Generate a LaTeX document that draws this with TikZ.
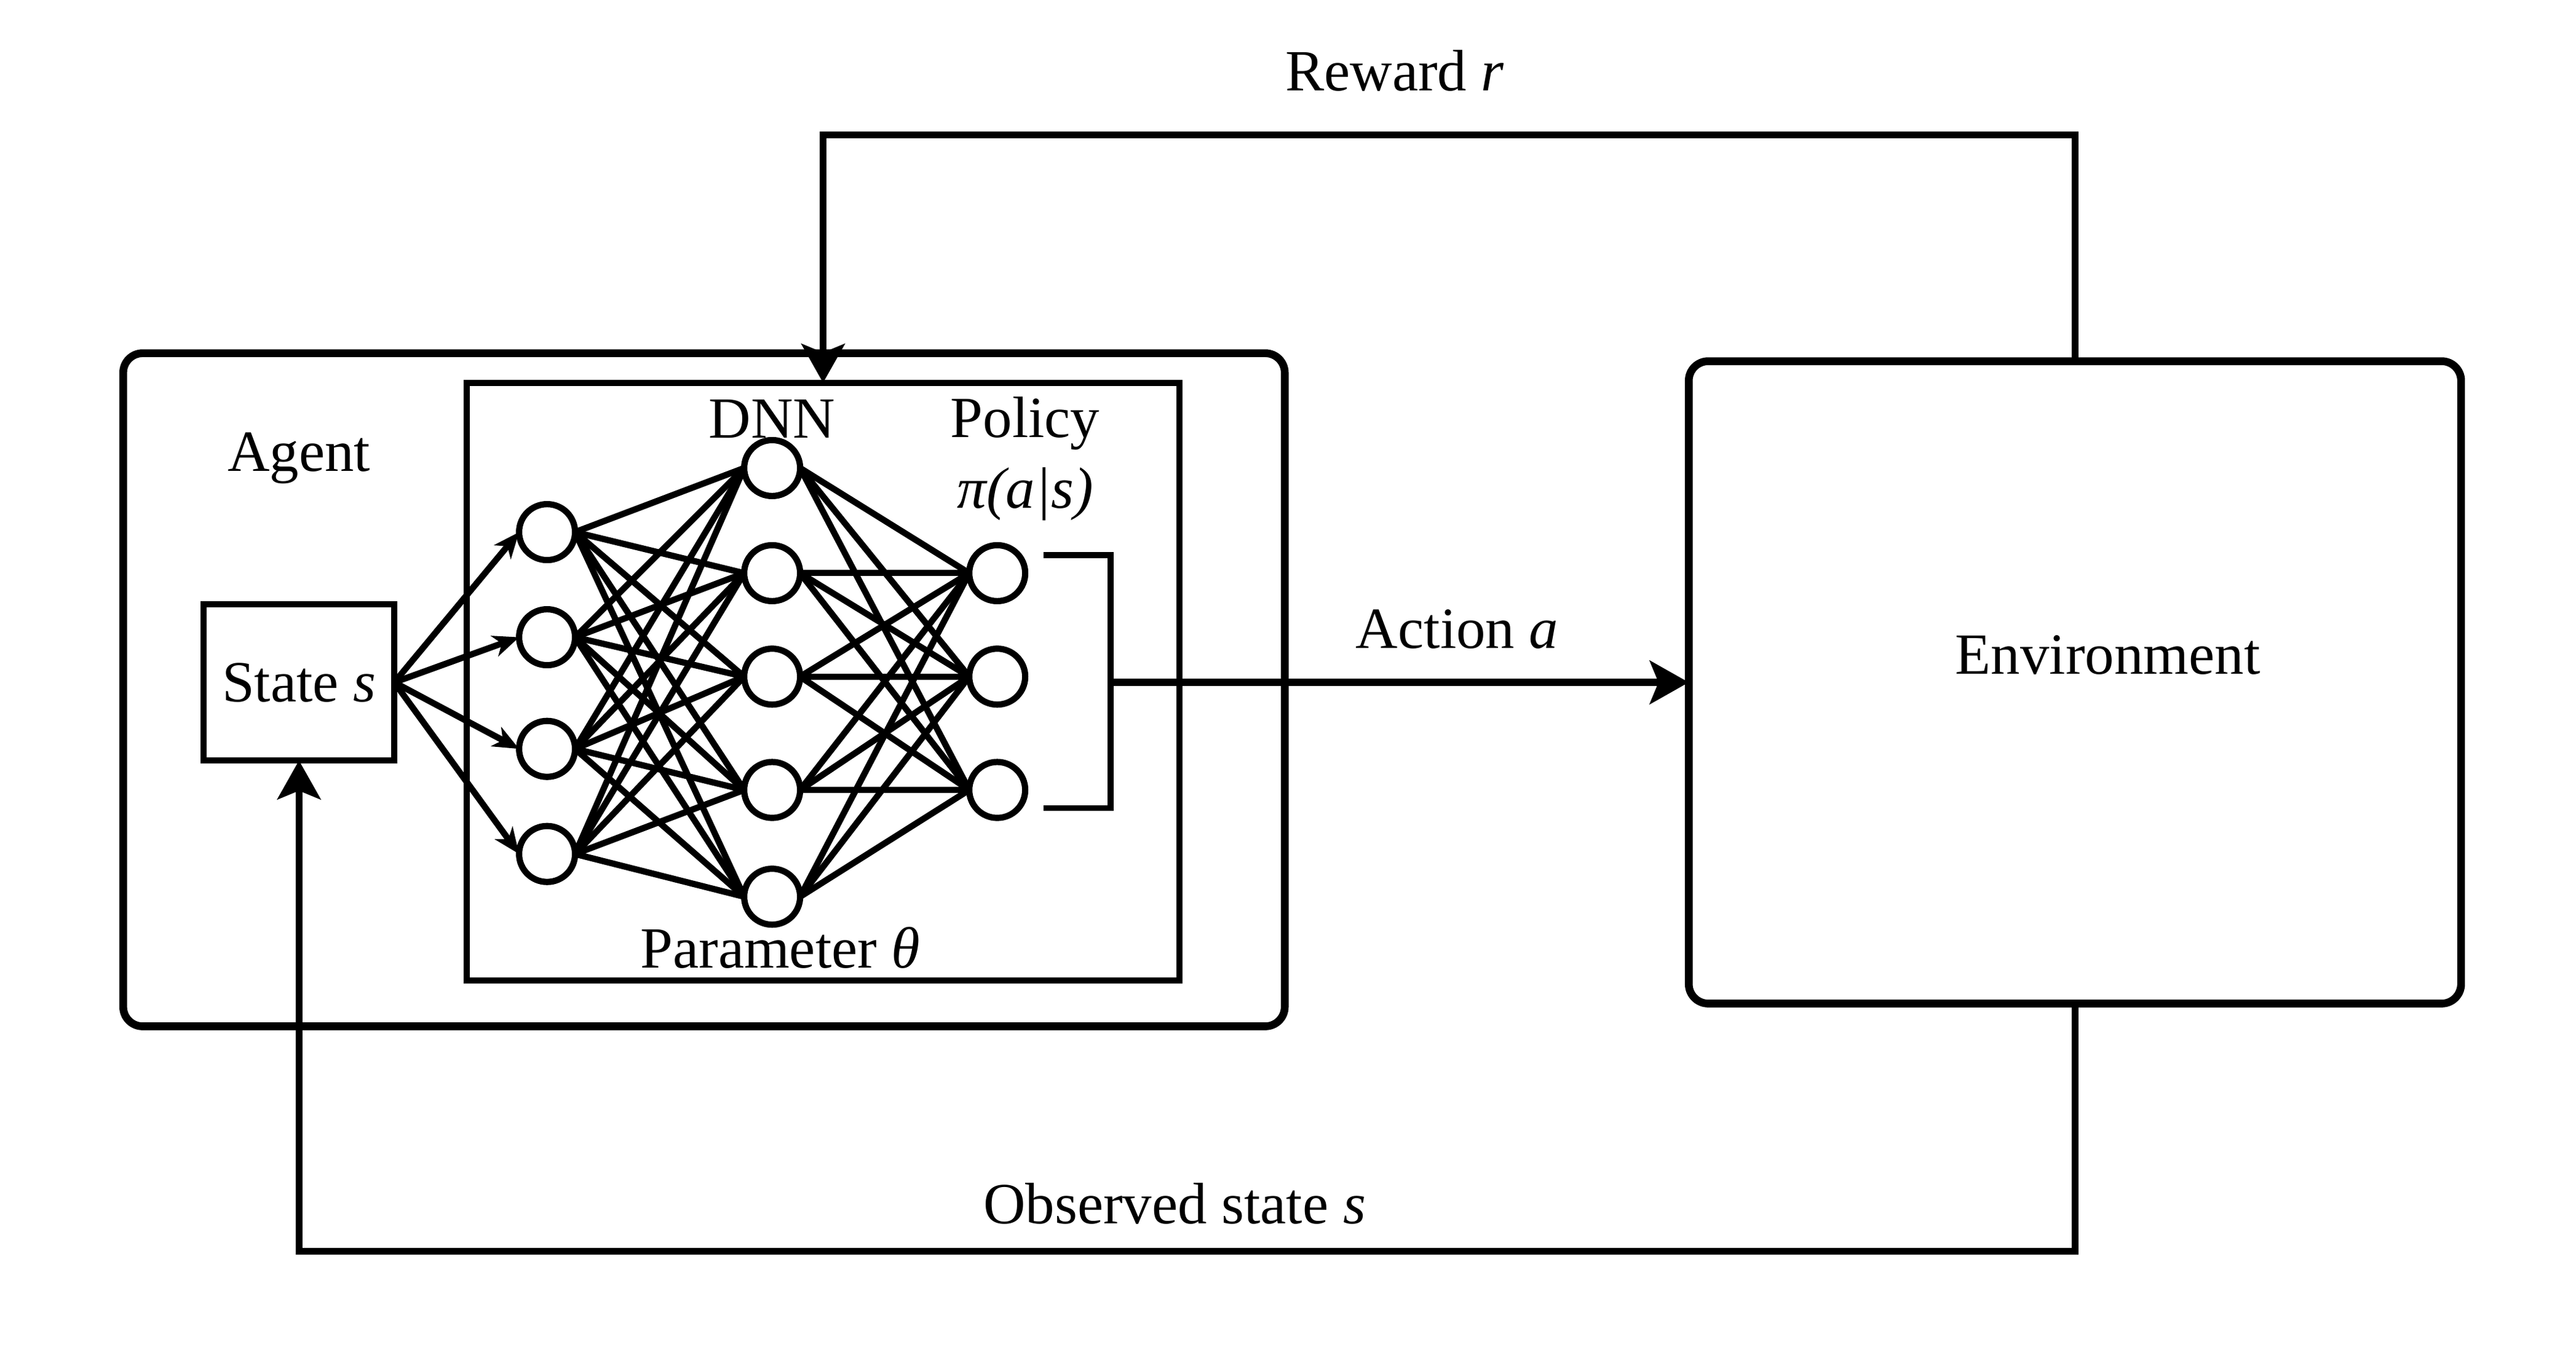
\documentclass[tikz,border=0pt]{standalone}
\usepackage{fontspec}
\setmainfont{Liberation Serif}
\usetikzlibrary{arrows.meta}
\tikzset{
    outer-box/.style = {draw, line width=3.6pt, rectangle, rounded corners=9pt, outer sep=0pt},
    plain-box/.style = {draw, line width=2.8pt, rectangle, outer sep=0pt},
    net-circle/.style = {draw, line width=2.9pt, circle, fill=white, inner sep=0pt, minimum size=0.91cm, outer sep=0pt},
    net-line/.style = {line width=2.9pt},
    in-arrow/.style = {line width=2.9pt, -{Stealth[length=12pt, width=10pt, inset=3.5pt]}},
    flow-arrow/.style = {line width=3.1pt, -{Stealth[length=18pt, width=20pt, inset=4pt]}},
    label-text/.style = {inner sep=0pt, font=\fontsize{27}{32}\selectfont},
}

\begin{document}
\begin{tikzpicture}[x=0.026716cm, y=-0.026716cm]
\useasboundingbox (0,0) rectangle (1568,823.85);

\node [outer-box, minimum width=18.89cm, minimum height=10.95cm] (agent) at (428.5,420) {};
\node [plain-box, minimum width=11.59cm, minimum height=9.72cm] (dnn) at (501,415) {};
\node [plain-box, label-text, minimum width=3.10cm, minimum height=2.54cm] (state) at (182,415.5) {State \textit{s}};
\node [outer-box, minimum width=12.56cm, minimum height=10.45cm] (env) at (1263,415.5) {};

% network
\foreach \n/\y in {1/324, 2/388, 3/456, 4/520}
    \node [net-circle] (in\n) at (333,\y) {};
\foreach \n/\y in {1/285, 2/349, 3/412, 4/481, 5/546}
    \node [net-circle] (hid\n) at (470,\y) {};
\foreach \n/\y in {1/349, 2/412, 3/481}
    \node [net-circle] (out\n) at (607,\y) {};
\foreach \i in {1,...,4}
    \foreach \j in {1,...,5}
        \draw [net-line] (in\i.east) -- (hid\j.west);
\foreach \j in {1,...,5}
    \foreach \k in {1,...,3}
        \draw [net-line] (hid\j.east) -- (out\k.west);
\foreach \i in {1,...,4}
    \draw [in-arrow] (state.east) -- (in\i.west);

% bracket after the policy
\coordinate (brackettop) at (637,338);
\coordinate (bracketbot) at (637,492);
\coordinate (bracketmid) at (676,415.5);
\draw [line width=2.8pt, line cap=rect] (brackettop) -- (brackettop -| bracketmid) -- (bracketbot -| bracketmid) -- (bracketbot);
\draw [flow-arrow, line width=3.4pt] (bracketmid) -- (env.west);

% feedback loops
\coordinate (rewardtop) at (1263,82);
\coordinate (obsbot) at (1263,762);
\draw [flow-arrow] (env.north) -- (rewardtop) -| (dnn.north);
\draw [flow-arrow] (env.south) -- (obsbot) -| (state.south);

\node [label-text] (agentlabel) at (182,279) {Agent};
\node [label-text] (dnnlabel) at (470,255) {DNN};
\node [label-text] (policylabel) at (624,258) {Policy};
\node [label-text] (pilabel) at (624,301) {\textit{π(a|s)}};
\node [label-text] (paramlabel) at (475,577) {Parameter \textit{θ}};
\node [label-text] (rewardlabel) at (849,43) {Reward \textit{r}};
\node [label-text] (actionlabel) at (887,383) {Action \textit{a}};
\node [label-text] (envlabel) at (1283,399) {Environment};
\node [label-text] (obslabel) at (715,733) {Observed state \textit{s}};
\end{tikzpicture}
\end{document}
